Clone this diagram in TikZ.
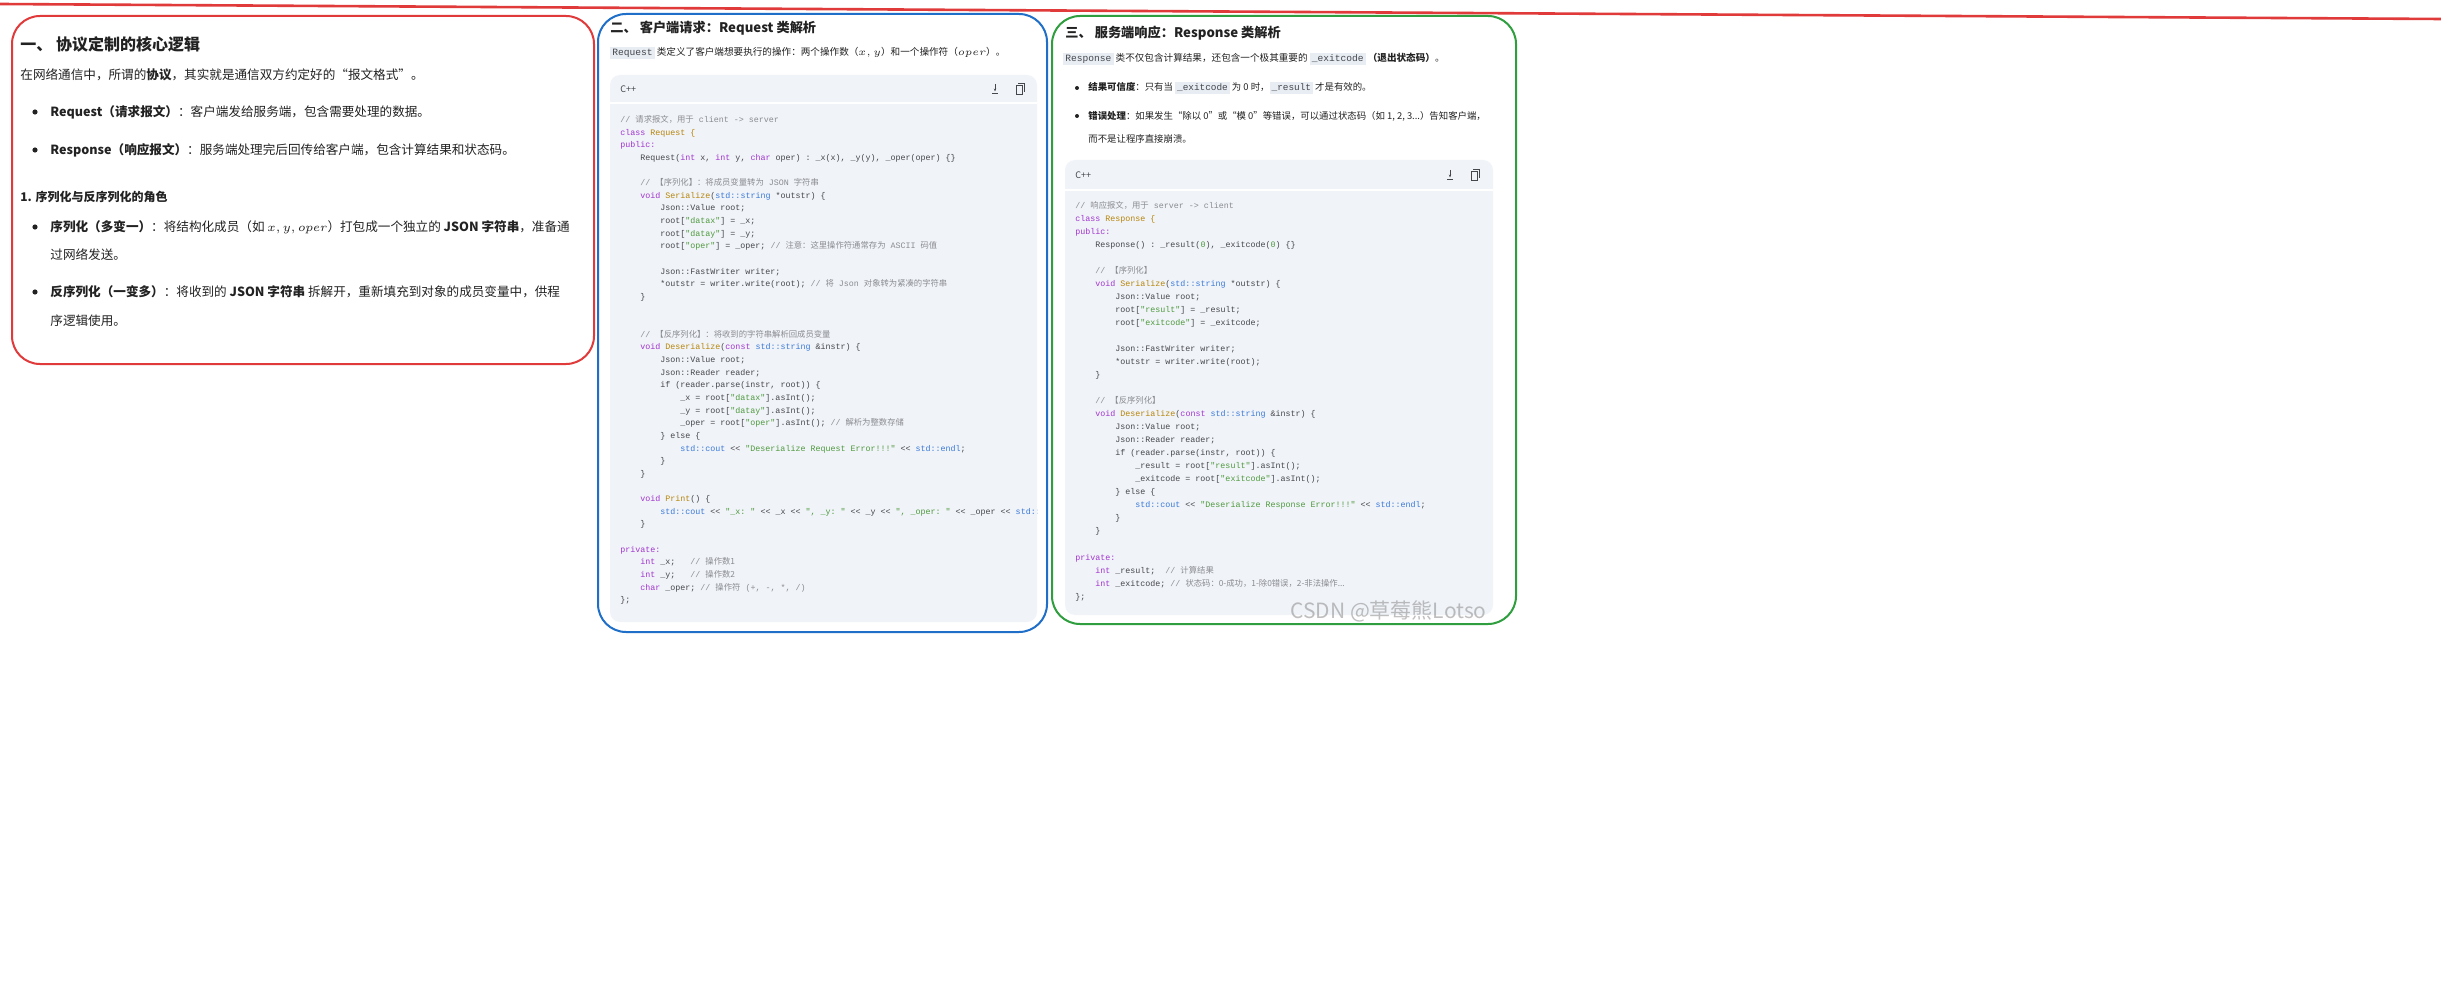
\documentclass[tikz,border=0pt]{standalone}
\usepackage{fontspec}
\usetikzlibrary{arrows.meta}
\setmainfont{Noto Sans CJK SC}
\setmonofont{Liberation Mono}
\definecolor{kwc}{HTML}{A135D0}
\definecolor{fnc}{HTML}{B7860B}
\definecolor{stc}{HTML}{4F9A3E}
\definecolor{tyc}{HTML}{3B7AD9}
\definecolor{cmc}{HTML}{8A8C92}
\definecolor{codec}{HTML}{45474D}
\definecolor{codebg}{HTML}{F0F3F8}
\definecolor{pillbg}{HTML}{E8ECF3}
\definecolor{redc}{HTML}{E03A3A}
\definecolor{bluec}{HTML}{1F6FC8}
\definecolor{greenc}{HTML}{2E9E3E}
\definecolor{txtc}{HTML}{222222}
\newcommand\kwd[1]{{\color{kwc}#1}}
\newcommand\fnn[1]{{\color{fnc}#1}}
\newcommand\strg[1]{{\color{stc}#1}}
\newcommand\tyy[1]{{\color{tyc}#1}}
\newcommand\cmt[1]{{\color{cmc}#1}}
\newcommand\zh[1]{{\rmfamily\color{cmc}#1}}
\newcommand\IA{\hspace*{10pt}}
\newcommand\IB{\hspace*{20pt}}
\newcommand\IC{\hspace*{30pt}}
\newcommand\pill[1]{{\setlength\fboxsep{1pt}\colorbox{pillbg}{\ttfamily\color{codec}#1}}}
\tikzset{
 panel/.style={draw, line width=1pt, rounded corners=14pt},
 codebox/.style={fill=codebg, draw=none, rounded corners=5pt},
 txt/.style={anchor=west, inner sep=0pt, text=txtc, align=left},
 code/.style={anchor=north west, inner sep=0pt, align=left, text=codec},
 icon/.style={draw=codec, line width=0.4pt},
 dot/.style={fill=txtc}
}
\begin{document}
\begin{tikzpicture}[x=0.5pt,y=-0.5pt]
\useasboundingbox (0,0) rectangle (2441,1000);
\fill[white] (0,0) rectangle (2441,1000);
\coordinate (rl) at (0,4); \coordinate (rr) at (2441,19);
\draw[redc, line width=1.3pt] (rl) -- (rr);

% ---------- panel 1
\draw[panel, redc] (12,16) rectangle (594,364);
\node[txt, font=\fontsize{8pt}{10pt}\selectfont\bfseries] (t1) at (20,44) {一、 协议定制的核心逻辑};
\node[txt, font=\fontsize{6.3pt}{8pt}\selectfont] (p1) at (20,75) {在网络通信中，所谓的\textbf{协议}，其实就是通信双方约定好的“报文格式”。};
\fill[dot] (35,112) circle (2.6); \fill[dot] (35,150) circle (2.6);
\fill[dot] (35,227) circle (2.6); \fill[dot] (35,292) circle (2.6);
\node[txt, font=\fontsize{6.3pt}{8pt}\selectfont] (b1) at (50,112) {\textbf{Request（请求报文）}：客户端发给服务端，包含需要处理的数据。};
\node[txt, font=\fontsize{6.3pt}{8pt}\selectfont] (b2) at (50,150) {\textbf{Response（响应报文）}：服务端处理完后回传给客户端，包含计算结果和状态码。};
\node[txt, font=\fontsize{6pt}{8pt}\selectfont\bfseries] (h1) at (20,197) {1. 序列化与反序列化的角色};
\node[txt, font=\fontsize{6.3pt}{8pt}\selectfont] (b3) at (50,227) {\textbf{序列化（多变一）}：将结构化成员（如 $x,y,oper$）打包成一个独立的 \textbf{JSON 字符串}，准备通};
\node[txt, font=\fontsize{6.3pt}{8pt}\selectfont] (b3b) at (50,255) {过网络发送。};
\node[txt, font=\fontsize{6.3pt}{8pt}\selectfont] (b4) at (50,292) {\textbf{反序列化（一变多）}：将收到的 \textbf{JSON 字符串} 拆解开，重新填充到对象的成员变量中，供程};
\node[txt, font=\fontsize{6.3pt}{8pt}\selectfont] (b4b) at (50,321) {序逻辑使用。};

% ---------- panel 2
\draw[panel, bluec] (598,14) rectangle (1047,632);
\node[txt, font=\fontsize{6.6pt}{8pt}\selectfont\bfseries] (t2) at (610,28) {二、 客户端请求：Request 类解析};
\node[txt, font=\fontsize{4.8pt}{6pt}\selectfont] (s2) at (610,53) {\pill{Request} 类定义了客户端想要执行的操作：两个操作数（$x,y$）和一个操作符（$oper$）。};
\fill[codebox] (610,75) rectangle (1037,622);
\draw[white, line width=1pt] (610,103) -- (1037,103);
\node[txt, font=\fontsize{4.5pt}{6pt}\selectfont, text=codec] (c2) at (620,89) {C++};
\draw[icon] (992,93) -- (998,93); \draw[icon,-{Stealth[length=1.5pt]}] (995,84) -- (995,91.5);
\draw[icon] (1016,85) rectangle (1022,94); \draw[icon] (1018,83) -- (1024,83) -- (1024,92);
\begin{scope}
\clip (610,103) rectangle (1037,622);
\node[code, font=\ttfamily\fontsize{4.17pt}{6.32pt}\selectfont] (code2) at (620,115) {%
\cmt{// }\zh{请求报文，用于}\cmt{\ client -> server}\\
\kwd{class} \fnn{Request \{}\\
\kwd{public:}\\
\IA Request(\kwd{int} x, \kwd{int} y, \kwd{char} oper) : \_x(x), \_y(y), \_oper(oper) \{\}\\
\mbox{}\\
\IA\cmt{// }\zh{【序列化】：将成员变量转为}\cmt{\ JSON\ }\zh{字符串}\\
\IA\kwd{void} \fnn{Serialize}(\tyy{std::string} *outstr) \{\\
\IB Json::Value root;\\
\IB root[\strg{"datax"}] = \_x;\\
\IB root[\strg{"datay"}] = \_y;\\
\IB root[\strg{"oper"}] = \_oper; \cmt{// }\zh{注意：这里操作符通常存为}\cmt{\ ASCII\ }\zh{码值}\\
\mbox{}\\
\IB Json::FastWriter writer;\\
\IB *outstr = writer.write(root); \cmt{// }\zh{将}\cmt{\ Json\ }\zh{对象转为紧凑的字符串}\\
\IA\}\\
\mbox{}\\
\mbox{}\\
\IA\cmt{// }\zh{【反序列化】：将收到的字符串解析回成员变量}\\
\IA\kwd{void} \fnn{Deserialize}(\kwd{const} \tyy{std::string} \&instr) \{\\
\IB Json::Value root;\\
\IB Json::Reader reader;\\
\IB if (reader.parse(instr, root)) \{\\
\IC\_x = root[\strg{"datax"}].asInt();\\
\IC\_y = root[\strg{"datay"}].asInt();\\
\IC\_oper = root[\strg{"oper"}].asInt(); \cmt{// }\zh{解析为整数存储}\\
\IB\} else \{\\
\IC\tyy{std::cout} << \strg{"Deserialize Request Error!!!"} << \tyy{std::endl};\\
\IB\}\\
\IA\}\\
\mbox{}\\
\IA\kwd{void} \fnn{Print}() \{\\
\IB\tyy{std::cout} << \strg{"\_x: "} << \_x << \strg{", \_y: "} << \_y << \strg{", \_oper: "} << \_oper << \tyy{std::endl};\\
\IA\}\\
\mbox{}\\
\kwd{private:}\\
\IA\kwd{int} \_x;\hspace*{7.5pt}\cmt{// }\zh{操作数1}\\
\IA\kwd{int} \_y;\hspace*{7.5pt}\cmt{// }\zh{操作数2}\\
\IA\kwd{char} \_oper; \cmt{// }\zh{操作符}\cmt{\ (+, -, *, /)}\\
\};};
\end{scope}

% ---------- panel 3
\draw[panel, greenc] (1052,16) rectangle (1516,624);
\node[txt, font=\fontsize{6.6pt}{8pt}\selectfont\bfseries] (t3) at (1065,33) {三、 服务端响应：Response 类解析};
\node[txt, font=\fontsize{4.8pt}{6pt}\selectfont] (s3) at (1063,59) {\pill{Response} 类不仅包含计算结果，还包含一个极其重要的 \pill{\_exitcode} \textbf{（退出状态码）}。};
\fill[dot] (1077,88) circle (2); \fill[dot] (1077,116) circle (2);
\node[txt, font=\fontsize{4.7pt}{6pt}\selectfont] (g1) at (1088,88) {\textbf{结果可信度}：只有当 \pill{\_exitcode} 为 0 时，\pill{\_result} 才是有效的。};
\node[txt, font=\fontsize{4.7pt}{6pt}\selectfont] (g2) at (1088,116) {\textbf{错误处理}：如果发生“除以 0”或“模 0”等错误，可以通过状态码（如 1, 2, 3...）告知客户端，};
\node[txt, font=\fontsize{4.7pt}{6pt}\selectfont] (g2b) at (1088,139) {而不是让程序直接崩溃。};
\fill[codebox] (1065,160) rectangle (1493,615);
\draw[white, line width=1pt] (1065,190) -- (1493,190);
\node[txt, font=\fontsize{4.5pt}{6pt}\selectfont, text=codec] (c3) at (1075,175) {C++};
\draw[icon] (1447,179) -- (1453,179); \draw[icon,-{Stealth[length=1.5pt]}] (1450,170) -- (1450,177.5);
\draw[icon] (1471,171) rectangle (1477,180); \draw[icon] (1473,169) -- (1479,169) -- (1479,178);
\node[code, font=\ttfamily\fontsize{4.17pt}{6.51pt}\selectfont] (code3) at (1075,201) {%
\cmt{// }\zh{响应报文，用于}\cmt{\ server -> client}\\
\kwd{class} \fnn{Response \{}\\
\kwd{public:}\\
\IA Response() : \_result(\strg{0}), \_exitcode(\strg{0}) \{\}\\
\mbox{}\\
\IA\cmt{// }\zh{【序列化】}\\
\IA\kwd{void} \fnn{Serialize}(\tyy{std::string} *outstr) \{\\
\IB Json::Value root;\\
\IB root[\strg{"result"}] = \_result;\\
\IB root[\strg{"exitcode"}] = \_exitcode;\\
\mbox{}\\
\IB Json::FastWriter writer;\\
\IB *outstr = writer.write(root);\\
\IA\}\\
\mbox{}\\
\IA\cmt{// }\zh{【反序列化】}\\
\IA\kwd{void} \fnn{Deserialize}(\kwd{const} \tyy{std::string} \&instr) \{\\
\IB Json::Value root;\\
\IB Json::Reader reader;\\
\IB if (reader.parse(instr, root)) \{\\
\IC\_result = root[\strg{"result"}].asInt();\\
\IC\_exitcode = root[\strg{"exitcode"}].asInt();\\
\IB\} else \{\\
\IC\tyy{std::cout} << \strg{"Deserialize Response Error!!!"} << \tyy{std::endl};\\
\IB\}\\
\IA\}\\
\mbox{}\\
\kwd{private:}\\
\IA\kwd{int} \_result;\hspace*{5pt}\cmt{// }\zh{计算结果}\\
\IA\kwd{int} \_exitcode; \cmt{// }\zh{状态码：0-成功，1-除0错误，2-非法操作...}\\
\};};

\node[anchor=west, inner sep=0pt, text=gray, opacity=0.5, font=\fontsize{10.5pt}{12pt}\selectfont] (wm) at (1290,611) {CSDN @草莓熊Lotso};
\end{tikzpicture}
\end{document}
